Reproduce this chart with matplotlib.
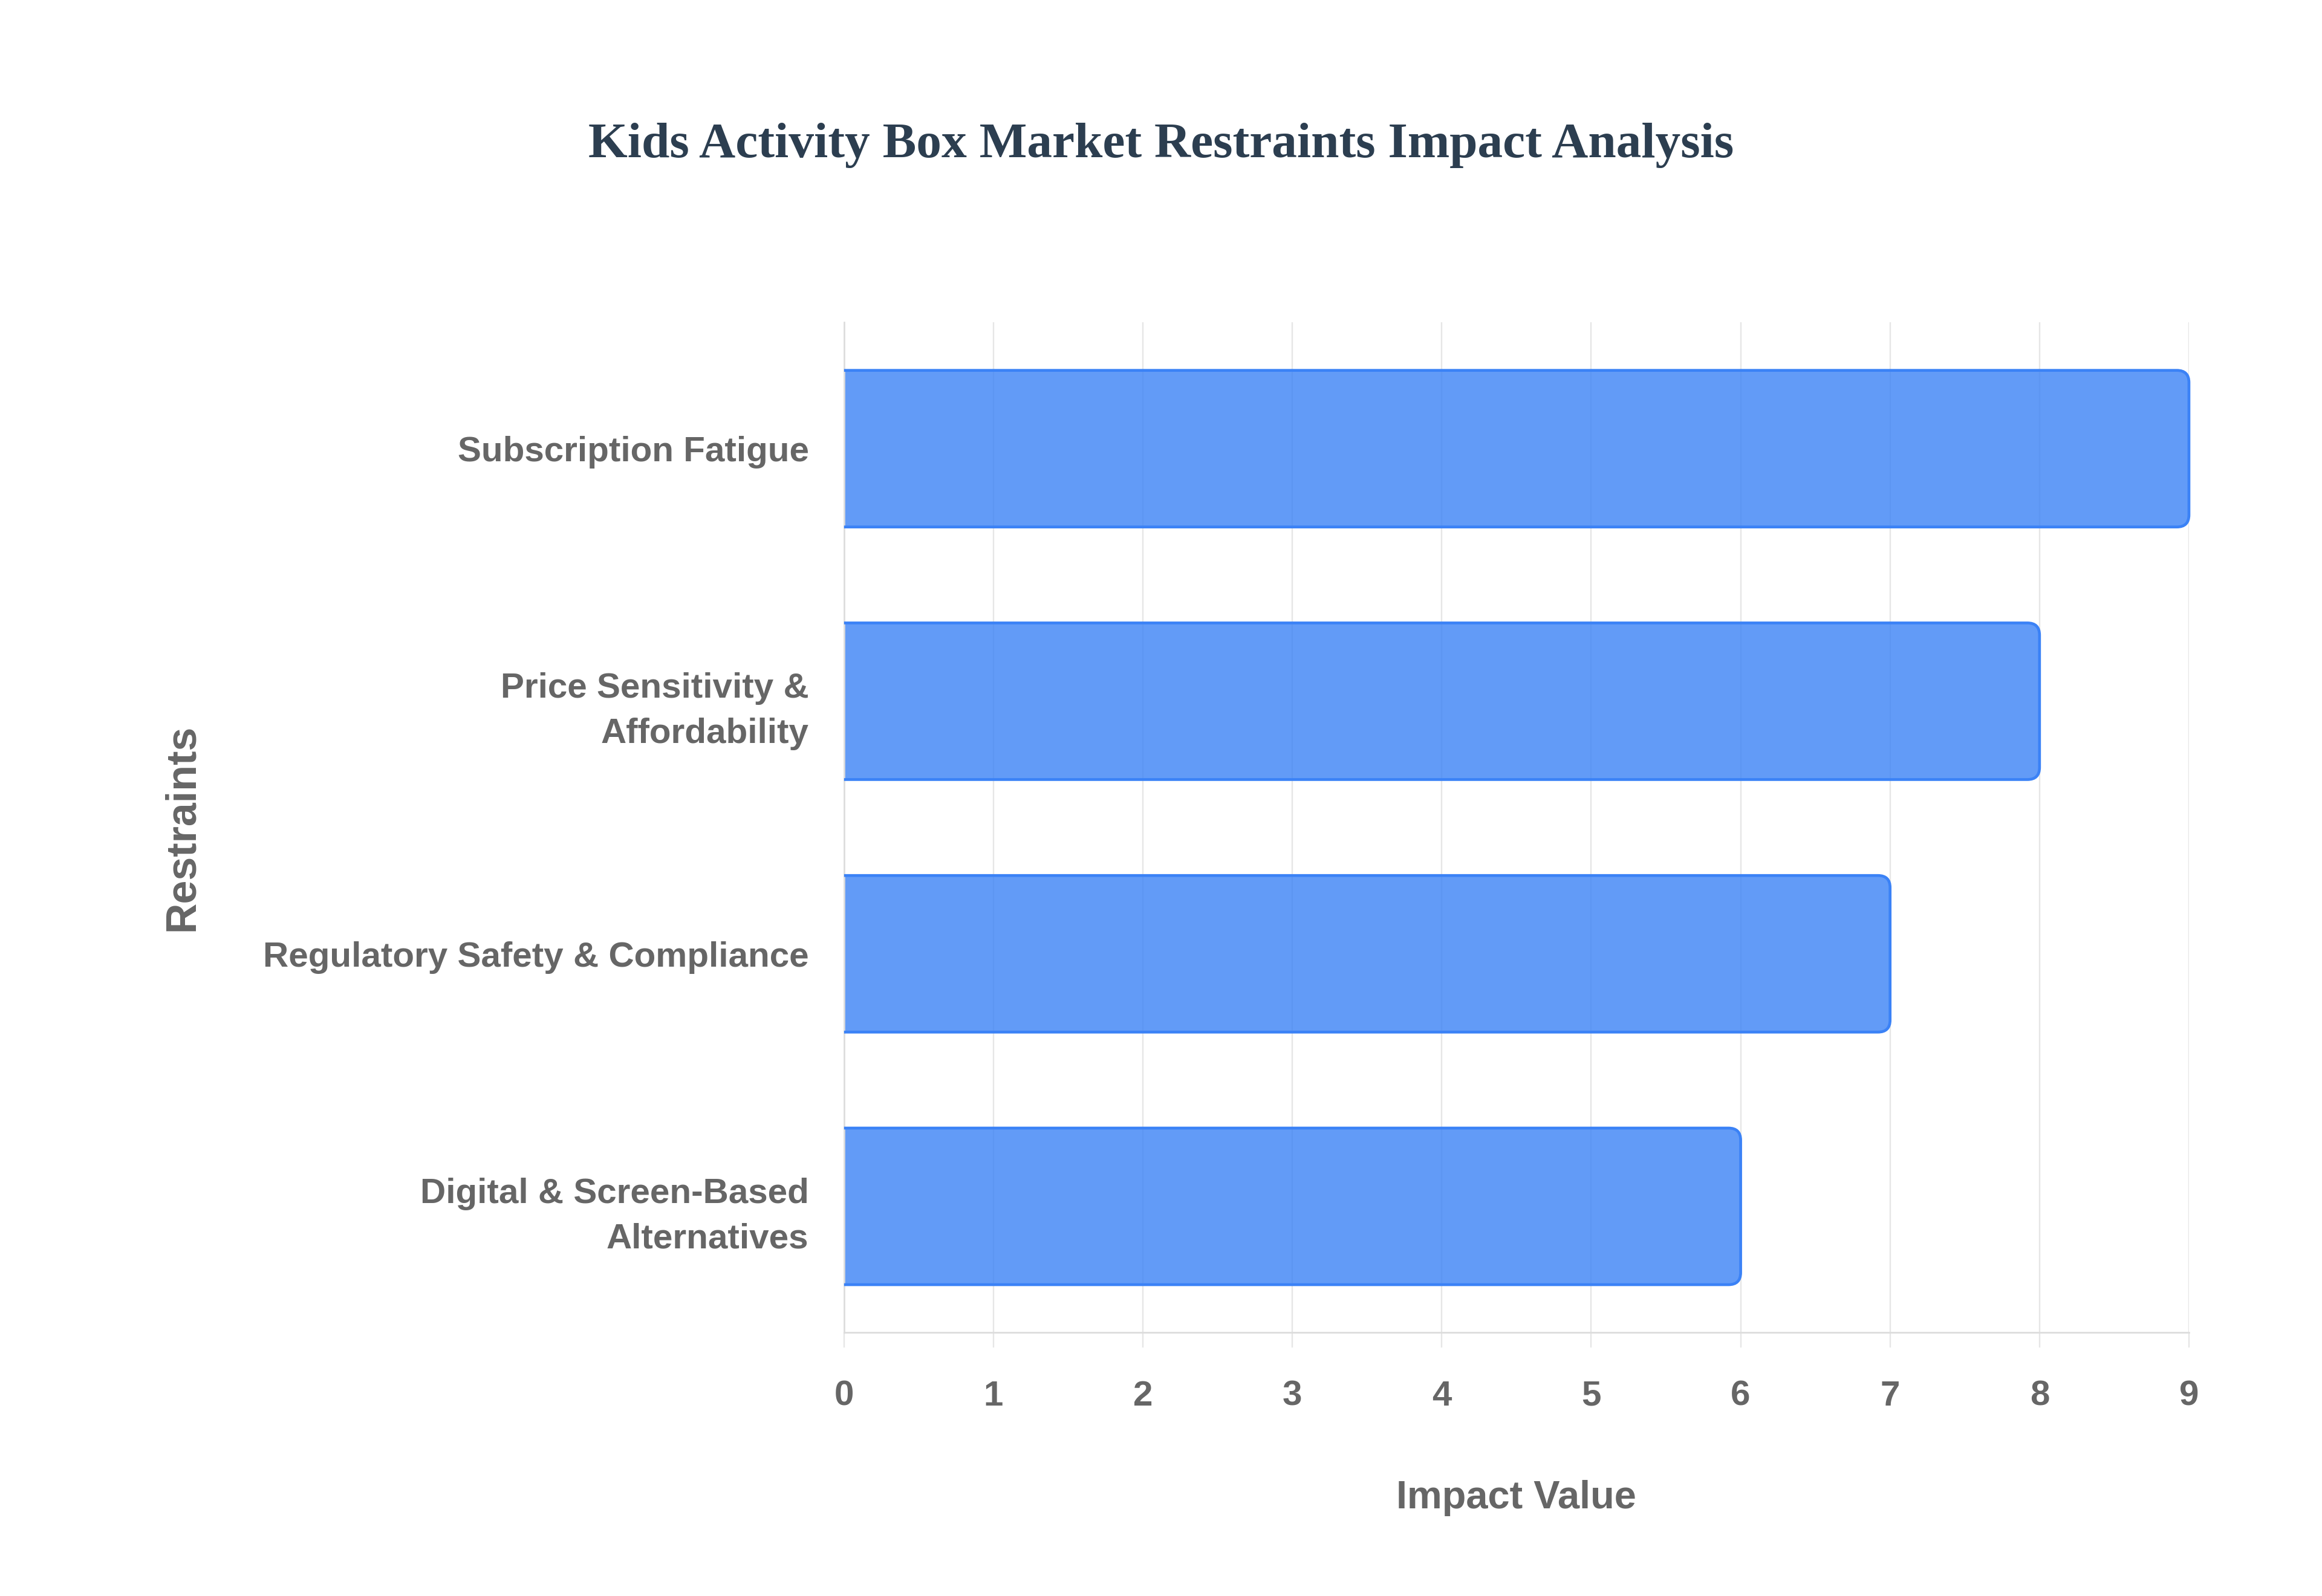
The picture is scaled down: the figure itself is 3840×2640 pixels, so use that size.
import numpy as np
import matplotlib
matplotlib.use('Agg')
import matplotlib.pyplot as plt
from matplotlib.path import Path
from matplotlib.patches import PathPatch
from matplotlib.colors import to_rgba

# data
restraints = ['Subscription Fatigue',
              'Price Sensitivity &\nAffordability',
              'Regulatory Safety & Compliance',
              'Digital & Screen-Based\nAlternatives']
impact = [9, 8, 7, 6]
x_ticks = [0, 1, 2, 3, 4, 5, 6, 7, 8, 9]

bar_blue = '#3b82f6'
grid_gray = '#e6e6e6'
text_gray = '#666666'

plt.rcParams['font.family'] = ['Liberation Sans', 'DejaVu Sans']

fig = plt.figure(figsize=(16, 11), dpi=240)
ax = fig.add_axes([0.3635, 0.165, 0.5792, 0.633])

ypos = np.arange(len(restraints))
bars = ax.barh(ypos, impact, height=0.62)
ax.set_xlim(0, 9)
ax.set_ylim(len(restraints) - 0.5, -0.5)

# px per data unit, to turn a 20 px corner radius into data units
p0 = ax.transData.transform((0, 0))
p1 = ax.transData.transform((1, 1))
rx = 20 / abs(p1[0] - p0[0])
ry = 20 / abs(p1[1] - p0[1])


def rounded_end(x0, y0, w, h):
    x1 = x0 + w
    yt = y0 + h
    verts = [(x0, y0), (x1 - rx, y0), (x1, y0), (x1, y0 + ry),
             (x1, yt - ry), (x1, yt), (x1 - rx, yt), (x0, yt)]
    codes = [Path.MOVETO, Path.LINETO, Path.CURVE3, Path.CURVE3,
             Path.LINETO, Path.CURVE3, Path.CURVE3, Path.LINETO]
    return verts, codes


for b in bars:
    v, c = rounded_end(b.get_x(), b.get_y(), b.get_width(), b.get_height())
    b.remove()
    fill = PathPatch(Path(v + [v[0]], c + [Path.CLOSEPOLY]),
                     facecolor=to_rgba(bar_blue, 0.8), edgecolor='none',
                     zorder=2, clip_on=False)
    edge = PathPatch(Path(v, c), fill=False, edgecolor=bar_blue,
                     linewidth=1.4, zorder=3, clip_on=False)
    ax.add_patch(fill)
    ax.add_patch(edge)

ax.set_axisbelow(True)
ax.set_xticks(x_ticks)
ax.set_yticks(ypos)
ax.set_yticklabels(restraints, linespacing=1.5)
ax.grid(axis='x', color=grid_gray, linewidth=0.7)
ax.grid(axis='y', visible=False)

ax.tick_params(axis='x', length=7.5, width=0.7, color=grid_gray, pad=16,
               labelsize=17.5, labelcolor=text_gray)
ax.tick_params(axis='y', length=0, pad=17.5, labelsize=17.5,
               labelcolor=text_gray)
for lab in ax.get_xticklabels() + ax.get_yticklabels():
    lab.set_fontweight('bold')

for side in ['top', 'right']:
    ax.spines[side].set_visible(False)
for side in ['left', 'bottom']:
    ax.spines[side].set_color('#dcdcdc')
    ax.spines[side].set_linewidth(0.8)

ax.set_xlabel('Impact Value', fontsize=19.5, fontweight='bold',
              color=text_gray, va='center')
ax.xaxis.set_label_coords(0.5, -0.164)
ax.set_ylabel('Restraints', fontsize=21, fontweight='bold',
              color=text_gray, va='center')
ax.yaxis.set_label_coords(-0.492, 0.5)

fig.text(0.5, 0.909, 'Kids Activity Box Market Restraints Impact Analysis',
         ha='center', va='center', fontsize=25, fontweight='bold',
         color='#2c3e50', family=['Liberation Serif', 'DejaVu Serif'])

fig.savefig('out.png', dpi=240, facecolor='white')
